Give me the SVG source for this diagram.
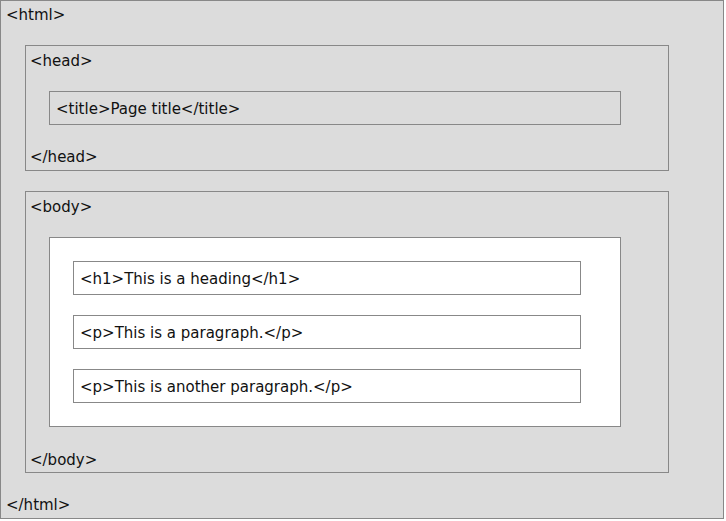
<svg xmlns="http://www.w3.org/2000/svg" width="726" height="521" viewBox="0 0 726 521">
<style>
.box{fill:#dcdcdc;stroke:#888;stroke-width:1}
.wbox{fill:#fff;stroke:#888;stroke-width:1}
text{font-family:"DejaVu Sans",Verdana,sans-serif;font-size:15px;fill:#111}
</style>
<rect width="726" height="521" fill="#fff"/>
<g id="html">
<rect class="box" x="0.5" y="0.5" width="723" height="518"/>
<text x="6" y="20">&lt;html&gt;</text>
<text x="6" y="510">&lt;/html&gt;</text>
</g>
<g id="head">
<rect class="box" x="25.5" y="45.5" width="643" height="125"/>
<text x="30" y="66">&lt;head&gt;</text>
<text x="30" y="162">&lt;/head&gt;</text>
</g>
<g id="title">
<rect class="box" x="49.5" y="91.5" width="571" height="33"/>
<text x="56" y="114">&lt;title&gt;Page title&lt;/title&gt;</text>
</g>
<g id="body">
<rect class="box" x="25.5" y="191.5" width="643" height="281"/>
<text x="30" y="212">&lt;body&gt;</text>
<text x="30" y="465">&lt;/body&gt;</text>
</g>
<g id="content">
<rect class="wbox" x="49.5" y="237.5" width="571" height="189"/>
</g>
<g id="h1">
<rect class="wbox" x="73.5" y="261.5" width="507" height="33"/>
<text x="80" y="284">&lt;h1&gt;This is a heading&lt;/h1&gt;</text>
</g>
<g id="p1">
<rect class="wbox" x="73.5" y="315.5" width="507" height="33"/>
<text x="80" y="338">&lt;p&gt;This is a paragraph.&lt;/p&gt;</text>
</g>
<g id="p2">
<rect class="wbox" x="73.5" y="369.5" width="507" height="33"/>
<text x="80" y="392">&lt;p&gt;This is another paragraph.&lt;/p&gt;</text>
</g>
<g id="connectors"/>
</svg>
